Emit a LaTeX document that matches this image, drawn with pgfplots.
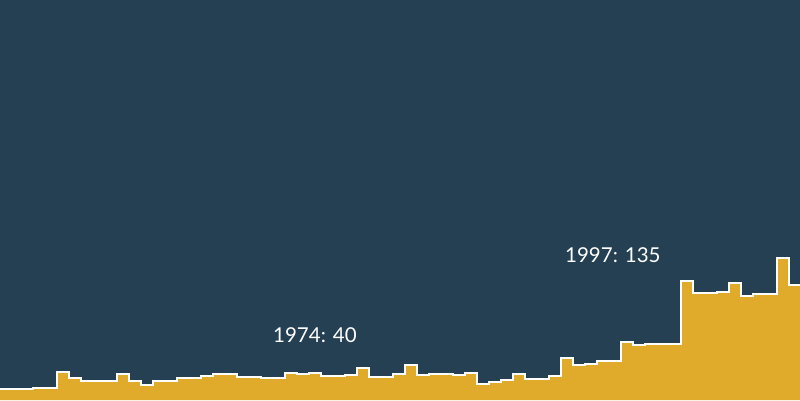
\documentclass[border=0pt]{standalone}
\usepackage{fontspec}
\setmainfont{Lato}
\usepackage{pgfplots}
\pgfplotsset{compat=1.18}
\usepackage{pgfplotstable}
\definecolor{bgblue}{RGB}{36,64,82}
\definecolor{gold}{RGB}{224,170,42}
\pgfplotstableread{
year value
1940 12
1941 13
1942 13
1943 14
1944 14
1945 32
1946 25
1947 22
1948 22
1949 22
1950 29
1951 22
1952 17
1953 22
1954 22
1955 25
1956 25
1957 27
1958 29
1959 30
1960 26
1961 26
1962 25
1963 25
1964 31
1965 29
1966 31
1967 27
1968 27
1969 28
1970 36
1971 26
1972 26
1973 29
1974 40
1975 28
1976 29
1977 29
1978 28
1979 31
1980 18
1981 20
1982 23
1983 30
1984 24
1985 24
1986 27
1987 48
1988 40
1989 41
1990 44
1991 44
1992 66
1993 62
1994 63
1995 63
1996 63
1997 135
1998 122
1999 122
2000 123
2001 133
2002 118
2003 120
2004 120
2005 161
2006 130
2007 130
}\datatable
\begin{document}
\begin{tikzpicture}
\begin{axis}[
  scale only axis,
  width=800pt, height=400pt,
  xmin=1940.25, xmax=2006.9167,
  ymin=0, ymax=454,
  hide axis,
  clip=true,
]
\fill[bgblue] (rel axis cs:0,0) rectangle (rel axis cs:1,1);
\addplot[const plot, fill=gold, draw=none] table[x=year,y=value]{\datatable} \closedcycle;
\addplot[const plot, white, line width=2pt] table[x=year,y=value]{\datatable};
\node[anchor=base west, white, font=\fontsize{20.5pt}{24pt}\selectfont, inner sep=0pt] at (axis cs:1963.0,64.7) {1974: 40};
\node[anchor=base west, white, font=\fontsize{20.5pt}{24pt}\selectfont, inner sep=0pt] at (axis cs:1987.333,156.6) {1997: 135};
\end{axis}
\end{tikzpicture}
\end{document}
